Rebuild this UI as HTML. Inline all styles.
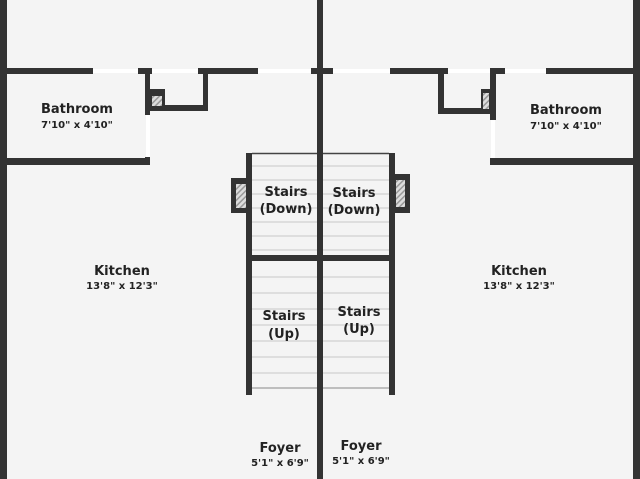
<!DOCTYPE html>
<html><head><style>html,body{margin:0;padding:0;background:#f4f4f4}svg{display:block}
text{font-family:"DejaVu Sans","Liberation Sans",sans-serif;fill:#222;text-anchor:middle}
.t{font-size:13px;font-weight:bold}.d{font-size:10px;font-weight:bold}</style></head><body>
<svg width="640" height="479" viewBox="0 0 640 479" xmlns="http://www.w3.org/2000/svg">
<defs><pattern id="h" width="4" height="4" patternUnits="userSpaceOnUse" patternTransform="rotate(45)"><rect width="4" height="4" fill="#ddd"/><rect width="1.5" height="4" fill="#999"/></pattern></defs>
<rect width="640" height="479" fill="#f4f4f4"/>
<g stroke="#c8c8c8" stroke-width="1">
<line x1="252" y1="166" x2="389" y2="166"/><line x1="252" y1="180" x2="389" y2="180"/><line x1="252" y1="194" x2="389" y2="194"/><line x1="252" y1="208" x2="389" y2="208"/><line x1="252" y1="222" x2="389" y2="222"/><line x1="252" y1="236" x2="389" y2="236"/><line x1="252" y1="250" x2="389" y2="250"/>
<line x1="252" y1="277" x2="389" y2="277"/><line x1="252" y1="293" x2="389" y2="293"/><line x1="252" y1="309" x2="389" y2="309"/><line x1="252" y1="325" x2="389" y2="325"/><line x1="252" y1="341" x2="389" y2="341"/><line x1="252" y1="357" x2="389" y2="357"/><line x1="252" y1="373" x2="389" y2="373"/>
</g>
<line x1="252" y1="153.5" x2="389" y2="153.5" stroke="#444" stroke-width="1.5"/>
<line x1="252" y1="388" x2="389" y2="388" stroke="#888" stroke-width="1"/>
<g fill="#fff"><rect x="93" y="69" width="45" height="4"/><rect x="152" y="69" width="46" height="4"/><rect x="258" y="69" width="53" height="4"/><rect x="333" y="69" width="57" height="4"/><rect x="448" y="69" width="42" height="4"/><rect x="505" y="69" width="41" height="4"/><rect x="146" y="115" width="4" height="43"/><rect x="491" y="120" width="4" height="38"/></g>
<g fill="#333">
<rect x="0" y="0" width="7" height="479"/><rect x="633" y="0" width="7" height="479"/><rect x="317" y="0" width="6" height="479"/>
<rect x="7" y="68" width="86" height="6"/><rect x="138" y="68" width="14" height="6"/><rect x="198" y="68" width="60" height="6"/><rect x="311" y="68" width="22" height="6"/>
<rect x="390" y="68" width="58" height="6"/><rect x="490" y="68" width="15" height="6"/><rect x="546" y="68" width="87" height="6"/>
<rect x="145" y="74" width="5" height="41"/><rect x="145" y="157" width="5" height="8"/><rect x="7" y="158" width="143" height="7"/>
<rect x="150" y="89" width="15" height="22"/><rect x="150" y="105" width="58" height="6"/><rect x="203" y="74" width="5" height="37"/>
<rect x="490" y="74" width="6" height="46"/><rect x="490" y="158" width="143" height="7"/>
<rect x="481" y="89" width="10" height="25"/><rect x="438" y="108" width="53" height="6"/><rect x="438" y="74" width="6" height="40"/>
<rect x="246" y="153" width="6" height="242"/><rect x="389" y="153" width="6" height="242"/><rect x="246" y="255" width="149" height="6"/>
<rect x="231" y="178" width="16" height="35"/><rect x="395" y="174" width="15" height="39"/>
</g>
<rect x="152" y="96" width="10" height="10" fill="url(#h)"/><rect x="483" y="93" width="6" height="16" fill="url(#h)"/>
<rect x="236" y="184" width="10" height="24" fill="url(#h)"/><rect x="396" y="180" width="9" height="27" fill="url(#h)"/>
<text class="t" x="77" y="113">Bathroom</text><text class="d" x="77" y="128">7'10" x 4'10"</text>
<text class="t" x="566" y="114">Bathroom</text><text class="d" x="566" y="129">7'10" x 4'10"</text>
<text class="t" x="122" y="275">Kitchen</text><text class="d" x="122" y="289">13'8" x 12'3"</text>
<text class="t" x="519" y="275">Kitchen</text><text class="d" x="519" y="289">13'8" x 12'3"</text>
<text class="t" x="286" y="196">Stairs</text><text class="t" x="286" y="213">(Down)</text>
<text class="t" x="354" y="197">Stairs</text><text class="t" x="354" y="214">(Down)</text>
<text class="t" x="284" y="320">Stairs</text><text class="t" x="284" y="338">(Up)</text>
<text class="t" x="359" y="316">Stairs</text><text class="t" x="359" y="333">(Up)</text>
<text class="t" x="280" y="452">Foyer</text><text class="d" x="280" y="466">5'1" x 6'9"</text>
<text class="t" x="361" y="450">Foyer</text><text class="d" x="361" y="464">5'1" x 6'9"</text>
</svg></body></html>
